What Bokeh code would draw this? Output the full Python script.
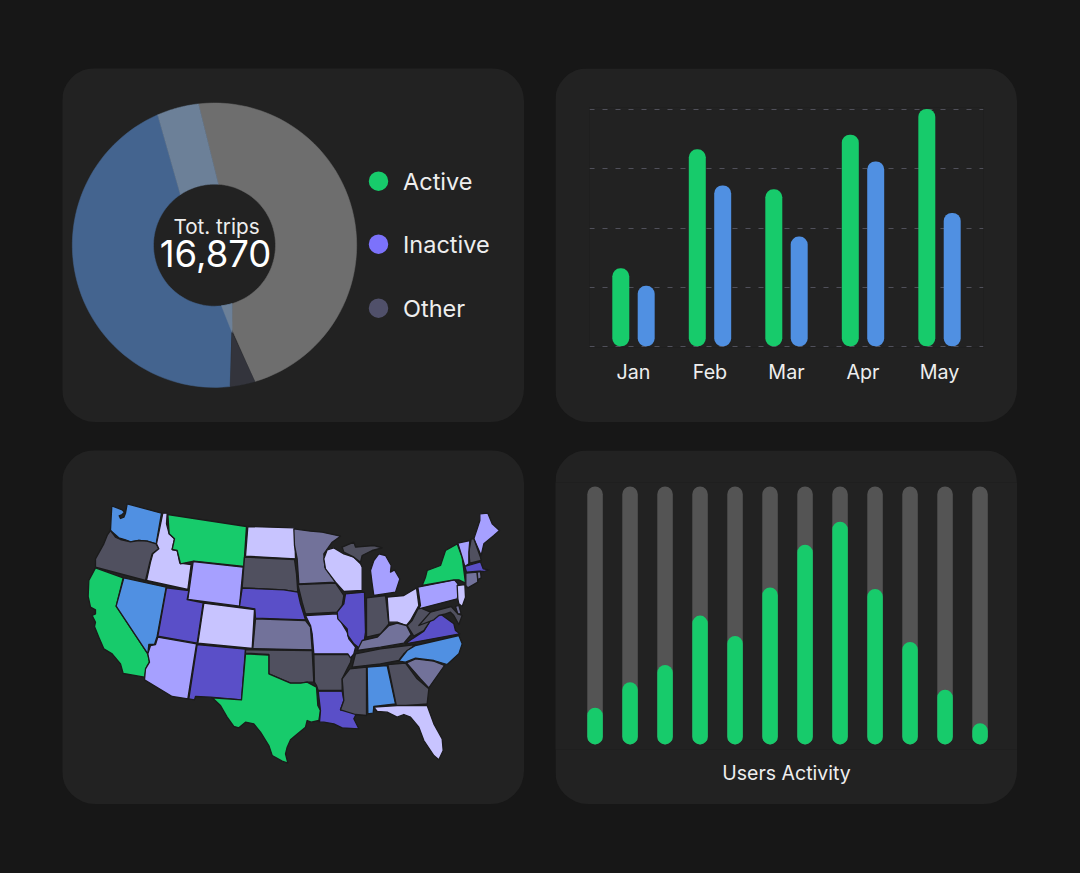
import math
from bokeh.core.properties import value
from bokeh.embed import file_html
from bokeh.layouts import column, row
from bokeh.models import ColumnDataSource, FactorRange, FixedTicker, Range1d
from bokeh.plotting import figure
from bokeh.resources import INLINE
from bokeh.transform import dodge

# ---------- data ----------
months = ["Jan", "Feb", "Mar", "Apr", "May"]
active_by_month = [33, 83.3, 66.4, 89.5, 100.4]
inactive_by_month = [25.6, 68, 46.4, 78.2, 56.4]

activity_index = [0, 1, 2, 3, 4, 5, 6, 7, 8, 9, 10, 11]
activity_values = [14.3, 24.3, 31, 50.3, 42.3, 61.3, 78, 87, 60.7, 40, 21.3, 8.3]
activity_track = [100.7] * 12

legend_names = ["Active", "Inactive", "Other"]
legend_colors = ["#17cb6b", "#7c72fb", "#50506a"]
center_title = "Tot. trips"
center_total = "16,870"

# donut slices: angles clockwise from 12 o'clock, the two edges are not radial
slice_names = ["share a", "share b", "overlap top", "overlap bottom", "remainder"]
slice_outer_start = [-6.47, 173.7, -23.55, 168.6, 163.5]
slice_outer_end = [163.5, 336.45, -6.47, 168.6, 173.7]
slice_inner_start = [3.6, 163.4, -34.0, 163.4, 168.6]
slice_inner_end = [173.4, 326.0, 3.6, 173.4, 168.6]
slice_outer_radius = [142.2, 142.2, 142.2, 89.3, 142.2]
slice_inner_radius = [61, 61, 61, 61, 89.3]
slice_colors = ["#6e6e6e", "#44648f", "#6c8098", "#6c8098", "#33343c"]

GREEN, BLUE, DARK, SLATE = "#17cb6b", "#5090e2", "#50505f", "#72729a"
LIGHT, MEDIUM, INDIGO = "#c8c4ff", "#a6a0ff", "#5a4fc8"

# state outlines, one dict per traced region
west_states = {
    "WA": (BLUE, [(124,46),(155,58),(162,65),(155,72),(146,76),(150,84),(160,80),(165,68),(170,40),(273,68),(257,160),(230,152),(205,150),(180,154),(165,148),(145,142),(120,120),(122,80)]),
    "OR": (DARK, [(120,120),(135,140),(150,147),(180,154),(205,150),(230,152),(257,160),(265,175),(245,190),(238,215),(225,270),(75,230),(75,205),(100,160),(110,135)]),
    "CA": (GREEN, [(75,232),(158,262),(137,347),(232,490),(237,515),(228,530),(222,560),(158,549),(150,520),(125,490),(100,475),(85,440),(72,408),(75,395),(65,375),(75,370),(75,358),(60,350),(53,318),(55,270)]),
    "NV": (BLUE, [(160,262),(287,290),(260,437),(252,462),(235,462),(232,490),(137,347)]),
    "ID": (LIGHT, [(277,68),(290,68),(288,100),(296,130),(312,145),(305,177),(320,180),(328,218),(362,222),(352,297),(228,270),(240,215),(247,190),(265,175),(258,160)]),
    "MT": (GREEN, [(292,72),(528,108),(520,228),(370,212),(330,220),(320,180),(305,177),(312,145),(296,130)]),
    "WY": (MEDIUM, [(368,213),(518,230),(507,347),(352,327)]),
    "UT": (INDIGO, [(288,292),(355,300),(350,327),(398,337),(380,458),(262,437)]),
    "CO": (LIGHT, [(400,338),(552,357),(545,474),(382,458)]),
    "AZ": (MEDIUM, [(262,440),(378,460),(352,625),(305,618),(222,568),(225,535),(237,515),(232,490),(240,465),(255,462)]),
    "NM": (INDIGO, [(380,462),(525,476),(513,628),(420,620),(375,618),(372,628),(355,625)]),
    "ND": (LIGHT, [(532,108),(672,112),(675,205),(525,197)]),
    "SD": (DARK, [(522,200),(672,207),(678,250),(682,305),(640,298),(515,292)]),
    "NE": (INDIGO, [(515,293),(640,298),(682,305),(690,340),(705,388),(555,383),(553,355),(507,348)]),
    "KS": (SLATE, [(555,385),(705,390),(720,410),(725,478),(547,474)]),
    "OK": (DARK, [(525,478),(725,480),(730,575),(710,575),(690,578),(660,578),(595,550),(595,492),(525,488)]),
    "TX": (GREEN, [(525,490),(595,494),(595,550),(660,578),(690,578),(710,575),(738,590),(742,645),(750,660),(745,690),(722,695),(710,690),(705,710),(675,735),(660,748),(650,770),(645,790),(652,818),(635,812),(605,795),(595,765),(570,725),(550,700),(525,695),(505,712),(490,708),(470,680),(450,645),(425,622),(513,628)]),
}
east_states = {
    "LA": (INDIGO, [(83,602),(155,602),(160,630),(150,658),(195,662),(195,675),(190,685),(205,715),(155,712),(130,700),(100,695),(87,695),(90,660)]),
    "AR": (DARK, [(70,492),(185,492),(180,515),(170,535),(155,565),(155,600),(83,600),(78,585),(72,575)]),
    "MO": (MEDIUM, [(45,375),(140,370),(155,400),(170,425),(175,445),(195,470),(190,490),(180,502),(172,490),(70,490),(65,430),(60,405)]),
    "IA": (DARK, [(22,282),(135,278),(160,315),(155,345),(140,365),(45,370),(35,335)]),
    "MN": (SLATE, [(10,115),(60,122),(95,125),(150,137),(125,155),(100,190),(103,230),(135,275),(25,280),(20,205),(12,165)]),
    "WI": (LIGHT, [(110,178),(130,172),(160,190),(190,200),(210,220),(215,230),(215,300),(160,303),(135,275),(105,235),(100,205)]),
    "IL": (INDIGO, [(165,310),(222,305),(225,425),(220,460),(205,472),(190,460),(172,435),(170,415),(142,385),(140,365),(160,340)]),
    "IN": (DARK, [(228,322),(285,315),(295,400),(270,430),(228,440)]),
    "MI": (MEDIUM, [(250,210),(265,190),(285,195),(302,225),(300,245),(312,238),(328,265),(315,305),(250,315),(245,280),(240,240)]),
    "MI upper": (DARK, [(155,170),(190,155),(195,170),(250,165),(275,172),(245,180),(215,195),(210,215),(190,200),(160,185)]),
    "OH": (LIGHT, [(290,320),(340,315),(378,292),(385,345),(360,390),(348,405),(320,395),(295,395)]),
    "KY": (SLATE, [(200,480),(215,450),(260,440),(295,405),(320,398),(348,405),(362,432),(340,458),(270,470)]),
    "TN": (DARK, [(185,530),(195,490),(270,475),(375,462),(340,490),(325,510),(270,520)]),
    "MS": (DARK, [(178,535),(228,530),(228,675),(195,672),(150,658),(160,630),(155,565)]),
    "AL": (BLUE, [(230,530),(290,525),(315,640),(250,648),(248,668),(232,670)]),
    "GA": (DARK, [(292,522),(345,518),(380,565),(415,595),(410,640),(318,648)]),
    "SC": (SLATE, [(348,517),(375,505),(430,512),(462,525),(415,592),(390,565)]),
    "NC": (BLUE, [(325,512),(350,480),(375,465),(505,435),(515,460),(505,490),(470,522),(430,510),(375,503),(345,515)]),
    "VA": (INDIGO, [(345,460),(365,445),(400,422),(420,390),(435,360),(490,400),(495,420),(508,430)]),
    "WV": (DARK, [(350,405),(365,390),(385,350),(420,365),(435,358),(420,390),(400,420),(370,437)]),
    "FL": (LIGHT, [(250,650),(320,645),(410,645),(430,700),(455,745),(458,780),(445,808),(430,795),(400,750),(385,710),(360,680),(340,672),(320,680),(290,665),(260,663)]),
}
northeast_states = {
    "PA": (MEDIUM, [(-38,260),(72,238),(82,250),(85,275),(80,295),(-35,325),(-30,315)]),
    "NY": (GREEN, [(-25,255),(-15,230),(-10,210),(30,195),(45,150),(80,130),(95,170),(105,248),(85,238),(70,238)]),
    "NJ": (LIGHT, [(80,255),(103,252),(105,290),(95,318),(85,310),(82,295)]),
    "MD": (DARK, [(-35,375),(0,335),(62,318),(82,340),(95,345),(85,372),(70,345),(60,335),(45,340),(25,345),(10,358)]),
    "DE": (SLATE, [(75,318),(85,315),(92,340),(82,340)]),
    "ME": (MEDIUM, [(148,40),(172,38),(185,70),(207,90),(190,105),(160,130),(152,165),(130,115),(140,85),(148,60)]),
    "NH": (DARK, [(122,115),(130,115),(150,170),(152,180),(118,188),(115,155)]),
    "VT": (MEDIUM, [(82,128),(118,120),(115,155),(115,190),(103,198),(95,170)]),
    "MA": (INDIGO, [(103,198),(150,184),(158,205),(175,208),(160,213),(145,212),(108,215)]),
    "CT": (SLATE, [(106,218),(140,215),(142,245),(112,262),(106,255)]),
    "RI": (SLATE, [(140,215),(150,213),(152,232),(142,238)]),
}

# ---------- shared styling ----------
FONT = "Inter"
PAGE_BG = "#171717"
CARD_BG = "#222222"
TEXT = "#eeeeee"
TRACK = "#545454"
CARD_W, CARD_H = 462, 354
CARD_STYLE = {"border-radius": "33px", "overflow": "hidden"}


def card(margin, **kw):
    p = figure(width=CARD_W, height=CARD_H, output_backend="svg", toolbar_location=None,
               background_fill_color=CARD_BG, border_fill_color=CARD_BG, frame_align=False,
               margin=margin, styles=CARD_STYLE, **kw)
    p.outline_line_color = None
    p.grid.visible = False
    return p


# ---------- donut ----------
p1 = card((68, 0, 0, 62), x_range=Range1d(-152, 310), y_range=Range1d(-177.3, 176.7),
          min_border=0, x_axis_location=None, y_axis_location=None)


def arc_points(a0, a1, r, n=60):
    angles = [math.radians(a0 + (a1 - a0) * i / n) for i in range(n + 1)]
    return [r * math.sin(a) for a in angles], [r * math.cos(a) for a in angles]


slice_xs, slice_ys = [], []
for os_, oe, is_, ie, ro, ri in zip(slice_outer_start, slice_outer_end, slice_inner_start,
                                    slice_inner_end, slice_outer_radius, slice_inner_radius):
    ox, oy = arc_points(os_, oe, ro)
    ix, iy = arc_points(ie, is_, ri)
    slice_xs.append(ox + ix)
    slice_ys.append(oy + iy)
p1.patches(slice_xs, slice_ys, fill_color=slice_colors, line_color=slice_colors, line_width=0.5)

p1.text([2], [19], text=[center_title], text_font=value(FONT), text_font_size="20.7px", text_color=TEXT,
        text_align="center", text_baseline="middle")
p1.text([1], [-8], text=[center_total], text_font=value(FONT), text_font_size="36.5px", text_color="#ffffff",
        text_align="center", text_baseline="middle")

legend_y = [64, 1, -63]
p1.scatter([164] * 3, legend_y, size=19.5, color=legend_colors, line_color=None)
p1.text([188.5] * 3, legend_y, text=legend_names, text_font=value(FONT), text_font_size="23.5px", text_color=TEXT,
        text_align="left", text_baseline="middle")

# ---------- grouped bars ----------
p2 = card((68, 0, 0, 31), x_range=FactorRange(factors=months, range_padding=0.03),
          y_range=Range1d(-0.5, 101), min_border_left=34, min_border_right=34,
          min_border_top=39, min_border_bottom=75, y_axis_location=None)
p2.ygrid.visible = True
p2.ygrid.ticker = FixedTicker(ticks=[0, 25, 50, 75, 100])
p2.ygrid.grid_line_color = "#50505a"
p2.ygrid.grid_line_dash = [5, 8]
p2.ygrid.grid_line_width = 1.2
p2.xaxis.axis_line_color = None
p2.xaxis.major_tick_line_color = None
p2.xaxis.minor_tick_line_color = None
p2.xaxis.major_label_text_font = FONT
p2.xaxis.major_label_text_font_size = "19.7px"
p2.xaxis.major_label_text_color = TEXT
p2.xaxis.major_label_standoff = 6
src = ColumnDataSource(dict(month=months, active=active_by_month, inactive=inactive_by_month))
p2.vbar(x=dodge("month", -0.166, range=p2.x_range), top="active", bottom=0, width=0.222, source=src,
        color=GREEN, line_color=None, border_radius=8)
p2.vbar(x=dodge("month", 0.166, range=p2.x_range), top="inactive", bottom=0, width=0.222, source=src,
        color=BLUE, line_color=None, border_radius=8)

# ---------- map ----------
p3 = card((28, 0, 0, 62), x_range=Range1d(62, 524), y_range=Range1d(804, 450), min_border=0,
          x_axis_location=None, y_axis_location=None)
map_xs, map_ys, map_colors, map_names = [], [], [], []
for group, ox, oy in ((west_states, 70, 490), (east_states, 290, 490), (northeast_states, 430, 500)):
    for name, (color, outline) in group.items():
        map_names.append(name)
        map_colors.append(color)
        map_xs.append([ox + x / 3 for x, _ in outline])
        map_ys.append([oy + y / 3 for _, y in outline])
p3.patches("xs", "ys", fill_color="color", line_color="#1b1b1b", line_width=1.3, line_join="round",
           source=ColumnDataSource(dict(xs=map_xs, ys=map_ys, color=map_colors, name=map_names)))

# ---------- activity bars ----------
p4 = card((28, 0, 0, 31), x_range=Range1d(-1.13, 12.07), y_range=Range1d(-2, 102.3),
          min_border_left=0, min_border_right=0, min_border_top=32, min_border_bottom=55,
          y_axis_location=None)
p4.xaxis.ticker = FixedTicker(ticks=[])
p4.xaxis.axis_line_color = None
p4.xaxis.major_tick_line_color = None
p4.xaxis.minor_tick_line_color = None
p4.xaxis.axis_label = "Users Activity"
p4.xaxis.axis_label_text_font = FONT
p4.xaxis.axis_label_text_font_style = "normal"
p4.xaxis.axis_label_text_font_size = "19.5px"
p4.xaxis.axis_label_text_color = TEXT
p4.xaxis.axis_label_standoff = 11
src4 = ColumnDataSource(dict(i=activity_index, track=activity_track, value=activity_values))
p4.vbar(x="i", top="track", bottom=0, width=0.443, source=src4, color=TRACK, line_color=None, border_radius=8)
p4.vbar(x="i", top="value", bottom=0, width=0.443, source=src4, color=GREEN, line_color=None, border_radius=8)

layout = column(row(p1, p2), row(p3, p4), styles={"background": PAGE_BG})
html = file_html(layout, INLINE, title="Dashboard")
html = html.replace("<body>", f'<body style="background:{PAGE_BG}">')
open("out.html", "w").write(html)
